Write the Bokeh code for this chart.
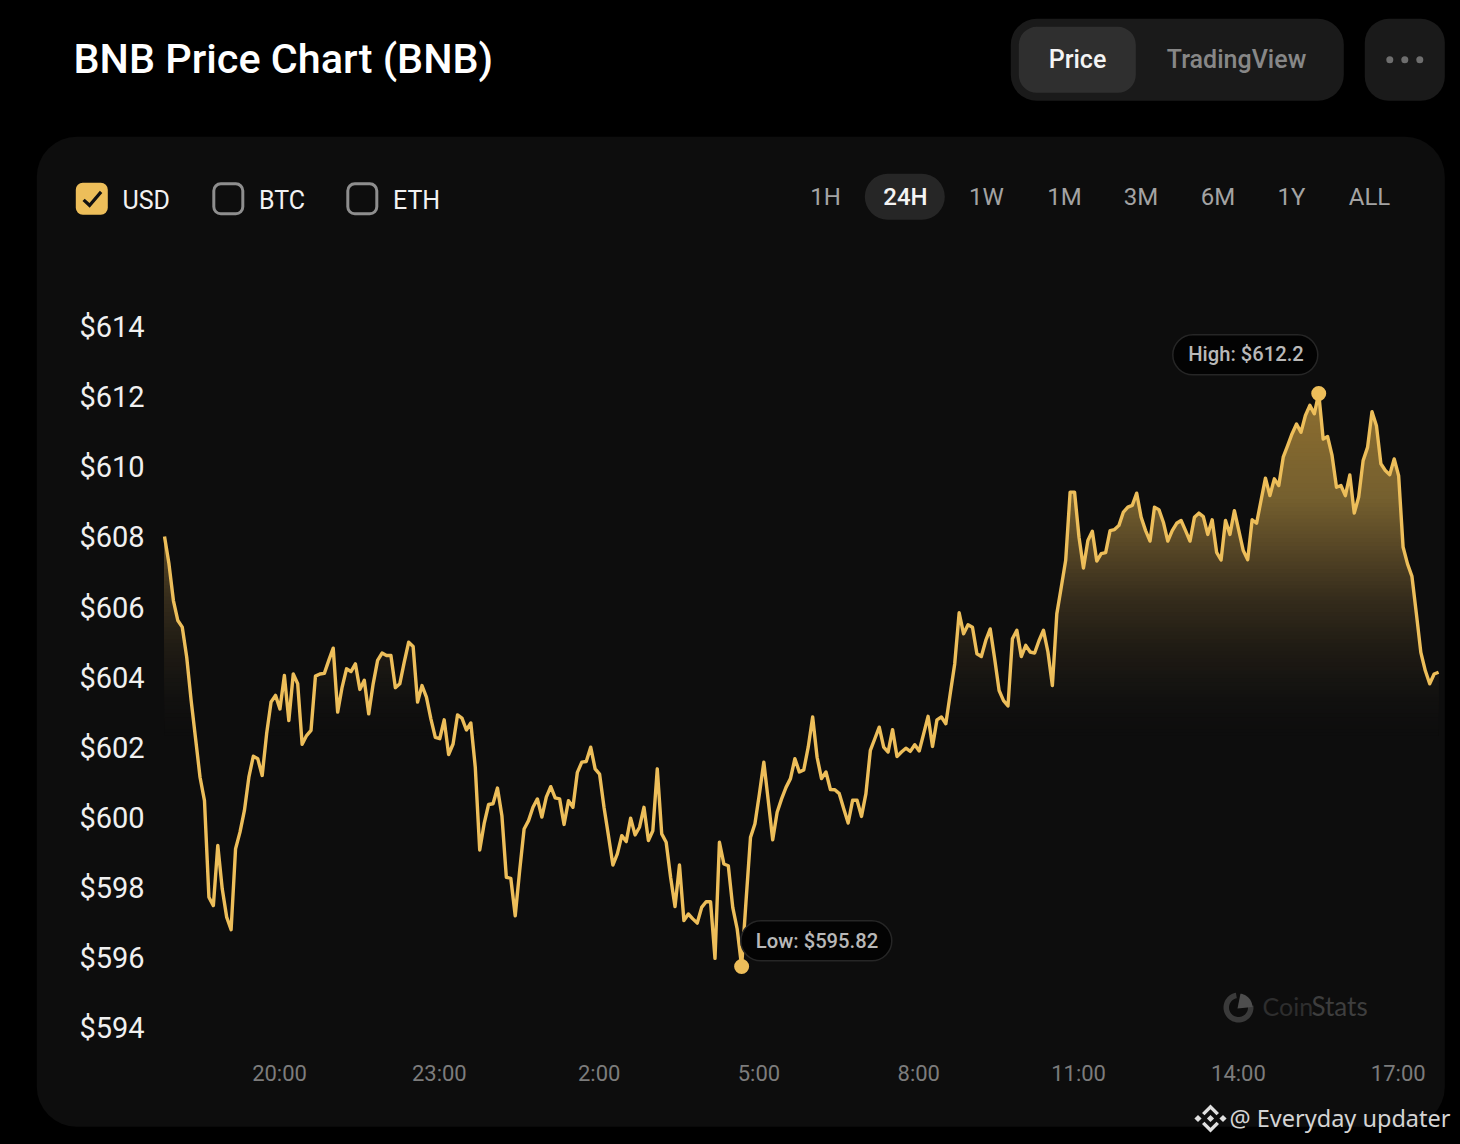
import numpy as np
from bokeh.plotting import figure
from bokeh.models import BoxAnnotation, Label, PolyAnnotation, FixedTicker, Range1d
from bokeh.embed import file_html
from bokeh.resources import INLINE

# ---------- data: one price reading per 5 minutes ----------
start_hour = 17.841
sample_hours = 1 / 12
price = [
 608.11,607.33,606.28,605.71,605.52,604.66,603.42,602.33,601.23,600.56,597.80,597.56,599.28,598.04,597.23,596.87,
 599.18,599.66,600.28,601.23,601.83,601.76,601.28,602.47,603.38,603.57,603.18,604.14,602.85,604.18,603.90,602.17,
 602.42,602.57,604.12,604.18,604.20,604.57,604.92,603.09,603.80,604.33,604.25,604.47,603.74,604.00,603.04,603.90,
 604.57,604.78,604.71,604.71,603.79,603.90,604.52,605.09,604.97,603.38,603.85,603.52,602.90,602.37,602.33,602.87,
 601.88,602.18,603.01,602.92,602.58,602.78,601.52,599.15,599.90,600.45,600.47,600.92,600.13,598.37,598.34,597.27,
 598.56,599.75,599.99,600.37,600.61,600.09,600.66,600.96,600.64,600.61,599.88,600.56,600.37,601.37,601.66,601.68,
 602.09,601.47,601.32,600.37,599.56,598.72,599.04,599.56,599.39,600.06,599.58,599.80,600.37,599.42,599.70,601.47,
 599.61,599.37,598.37,597.53,598.72,597.13,597.32,597.18,597.06,597.51,597.67,597.67,596.05,599.37,598.75,598.70,
 597.51,596.89,595.82,597.70,599.51,599.90,600.75,601.66,600.56,599.44,600.23,600.61,600.94,601.19,601.76,601.38,
 601.44,602.09,602.95,601.80,601.19,601.38,600.88,600.87,600.76,600.33,599.92,600.57,600.57,600.11,600.76,602.00,
 602.33,602.66,602.09,601.95,602.59,601.82,601.95,602.06,601.97,602.16,601.98,602.47,602.97,602.11,602.87,602.95,
 602.76,603.62,604.47,605.93,605.33,605.59,605.52,604.76,604.68,605.14,605.47,604.62,603.71,603.42,603.27,605.19,
 605.43,604.68,605.00,604.81,604.78,605.14,605.43,604.81,603.85,605.90,606.66,607.43,609.38,609.38,608.09,607.21,
 608.00,608.26,607.41,607.62,607.65,608.28,608.31,608.43,608.81,608.95,609.00,609.35,608.66,608.28,607.98,608.95,
 608.88,608.52,607.98,608.28,608.49,608.57,608.28,607.98,608.66,608.78,608.68,608.17,608.59,607.66,607.44,608.57,
 608.17,608.85,608.28,607.71,607.45,608.59,608.49,609.14,609.78,609.28,609.76,609.57,610.38,610.71,611.05,611.33,
 611.09,611.57,611.86,611.62,612.20,610.90,610.97,610.43,609.52,609.57,609.28,609.87,608.78,609.24,610.28,610.66,
 611.68,611.28,610.19,610.00,609.88,610.33,609.85,607.81,607.33,606.97,605.90,604.80,604.28,603.90,604.18,604.23,
]
y_ticks = [594, 596, 598, 600, 602, 604, 606, 608, 610, 612, 614]
x_ticks = [20, 23, 26, 29, 32, 35, 38, 41]
x_tick_labels = ["20:00", "23:00", "2:00", "5:00", "8:00", "11:00", "14:00", "17:00"]
legend_items = ["USD", "BTC", "ETH"]
ranges = ["1H", "24H", "1W", "1M", "3M", "6M", "1Y", "ALL"]

GOLD = "#EDBE5A"
FONT = "Roboto"
MED = "Roboto Medium"
PANEL = "#0D0D0D"

hours = start_hour + np.arange(len(price)) * sample_hours
price_arr = np.array(price)

p = figure(width=1460, height=1144, output_backend="svg", toolbar_location=None,
           x_range=Range1d(14.762, 42.169), y_range=Range1d(590.73, 623.435),
           min_border_left=0, min_border_right=0, min_border_top=0, min_border_bottom=0)
p.border_fill_color = "#000000"
p.background_fill_color = "#000000"
p.outline_line_color = None
p.grid.visible = False

# chrome helpers: positions are reference-image pixels
def box(x0, y0, x1, y1, color, r, line=None, lw=0, level="underlay"):
    b = BoxAnnotation(left=x0 - 0.7, right=x1 - 0.7, top=y0 - 0.7, bottom=y1 - 0.7,
                      left_units="canvas", right_units="canvas", top_units="canvas", bottom_units="canvas",
                      fill_color=color, fill_alpha=1 if color else 0, border_radius=r,
                      line_color=line, line_alpha=1, line_width=lw, level=level)
    p.add_layout(b)

def txt(x, y, s, size, color, font=FONT, align="left", level="overlay"):
    p.add_layout(Label(x=x, y=y, x_units="canvas", y_units="canvas", text=s,
                       text_font=font, text_font_size=f"{size}px", text_color=color,
                       text_align=align, text_baseline="middle", level=level))

def poly(xs, ys, color):
    p.add_layout(PolyAnnotation(xs=list(xs), ys=list(ys),
                                xs_units="canvas", ys_units="canvas", fill_color=color, fill_alpha=1,
                                line_color=None, level="overlay"))

box(37, 137, 1445, 1127, PANEL, 40)

# header
txt(73, 58, "BNB Price Chart (BNB)", 41.3, "#FFFFFF", MED)
box(1011, 19, 1344, 101, "#1A1A1A", 26)
box(1019, 27, 1136, 93, "#2F2F2F", 18)
txt(1077, 59, "Price", 25, "#F4F4F4", MED, "center")
txt(1236, 59, "TradingView", 25, "#878787", MED, "center")
box(1365, 19, 1445, 101, "#1A1A1A", 24)
for cx in (1390, 1405, 1420):
    box(cx - 3.5, 56.5, cx + 3.5, 63.5, "#6E6E6E", 4)

# legend checkboxes
box(76, 183, 108, 215, GOLD, 7)
poly([82.0, 84.2, 89.0, 99.4, 101.8, 89.2], [200.6, 198.3, 202.4, 190.3, 192.4, 207.2], "#111111")
box(214, 184, 243, 214, None, 7, "#8E8E8E", 3)
box(348, 184, 377, 214, None, 7, "#8E8E8E", 3)
for x, s in zip((122, 258.5, 392.5), legend_items):
    txt(x, 200, s, 25, "#F2F2F2")

# range buttons
box(865, 174, 945, 220, "#262626", 23)
for cx, s in zip((825, 905, 986, 1064, 1140.5, 1217.5, 1291, 1369), ranges):
    txt(cx, 196.3, s, 24, "#F4F4F4" if s == "24H" else "#A3A3A3", MED if s == "24H" else FONT, "center")

# area under the line: vertical gradient made of painted bands
stops_p = [612.4, 611.14, 609.23, 607.80, 606.37, 604.94, 603.51, 602.42]
stops_r = [140, 133, 117, 86, 53, 31, 18, 13]
stops_g = [112, 105, 96, 70, 44, 27, 17, 13]
stops_b = [52, 47, 47, 38, 28, 20, 16, 13]
levels = np.linspace(612.4, 602.5, 90)
base = 602.42
for lv in levels:
    r = int(np.interp(lv, stops_p[::-1], stops_r[::-1]))
    g = int(np.interp(lv, stops_p[::-1], stops_g[::-1]))
    b = int(np.interp(lv, stops_p[::-1], stops_b[::-1]))
    top = np.maximum(np.minimum(price_arr, lv), base)
    p.varea(x=hours, y1=top, y2=base, fill_color=f"#{r:02x}{g:02x}{b:02x}", fill_alpha=1)

p.line(hours, price_arr, line_color=GOLD, line_width=3.4, line_join="round")

imax, imin = int(np.argmax(price_arr)), int(np.argmin(price_arr))
p.scatter([hours[imax], hours[imin]], [price_arr[imax], price_arr[imin]], size=15, color=GOLD, line_color=None)

# high / low pills
box(1173, 335, 1318, 375, "#030303", 20, "#262626", 1.5, level="overlay")
txt(1245.5, 353.5, f"High: ${price_arr[imax]:.1f}", 20.2, "#B8B8B8", MED, "center")
box(741, 921, 892, 961, "#030303", 20, "#262626", 1.5, level="overlay")
txt(816.5, 940.5, f"Low: ${price_arr[imin]:.2f}", 20.2, "#B8B8B8", MED, "center")

# CoinStats watermark
cx, cy = 1238, 1007
ang = np.radians(np.linspace(-8, 260, 50))
poly(list(cx + 15 * np.cos(ang)) + list(cx + 9.5 * np.cos(ang[::-1])),
     list(cy + 15 * np.sin(ang)) + list(cy + 9.5 * np.sin(ang[::-1])), "#3A3A3A")
ang = np.radians(np.linspace(-82, -2, 20))
poly([cx - 1] + list(cx + 14 * np.cos(ang)), [cy + 1] + list(cy + 14 * np.sin(ang)), "#4E4E4E")
txt(1262, 1005.5, "Coin", 25, "#2E2E2E", "Lato")
txt(1311, 1005.5, "Stats", 26, "#3E3E3E", "Lato")

# footer watermark
c = (1210, 1118)
for dx, dy in ((-12.5, 0), (12.5, 0), (0, 0)):
    r = 3.6
    poly([c[0] + dx - r, c[0] + dx, c[0] + dx + r, c[0] + dx], [c[1] + dy, c[1] + dy - r, c[1] + dy, c[1] + dy + r], "#E0E0E0")
for sgn in (-1, 1):
    poly([c[0], c[0] + 8.5, c[0] + 6, c[0], c[0] - 6, c[0] - 8.5],
         [c[1] + sgn * 14, c[1] + sgn * 5.5, c[1] + sgn * 3.2, c[1] + sgn * 9.2, c[1] + sgn * 3.2, c[1] + sgn * 5.5], "#E0E0E0")
txt(1229, 1117, "@ Everyday updater", 23.5, "#D4D4D4", "Noto Sans")

# axes sit inside the full-page frame, at fixed data locations
p.yaxis.fixed_location = 17.656
p.xaxis.fixed_location = 593.418
label_pos = {v: v + 0.1 - (614 - v) * 0.0025 for v in y_ticks}
p.yaxis.ticker = FixedTicker(ticks=list(label_pos.values()))
p.yaxis.major_label_overrides = {pos: f"${v}" for v, pos in label_pos.items()}
p.xaxis.ticker = FixedTicker(ticks=x_ticks)
p.xaxis.major_label_overrides = dict(zip(x_ticks, x_tick_labels))
for ax, size, col, so in ((p.yaxis, "29px", "#F0F0F0", 4), (p.xaxis, "22px", "#7C7C7C", 5)):
    ax.axis_line_color = None
    ax.major_tick_line_color = None
    ax.minor_tick_line_color = None
    ax.major_label_text_font = FONT
    ax.major_label_text_font_size = size
    ax.major_label_text_color = col
    ax.major_label_standoff = so

html = file_html(p, INLINE)
html = html.replace("<head>", "<head><style>html,body{background:#000;overflow:hidden}</style>", 1)
open("out.html", "w").write(html)
